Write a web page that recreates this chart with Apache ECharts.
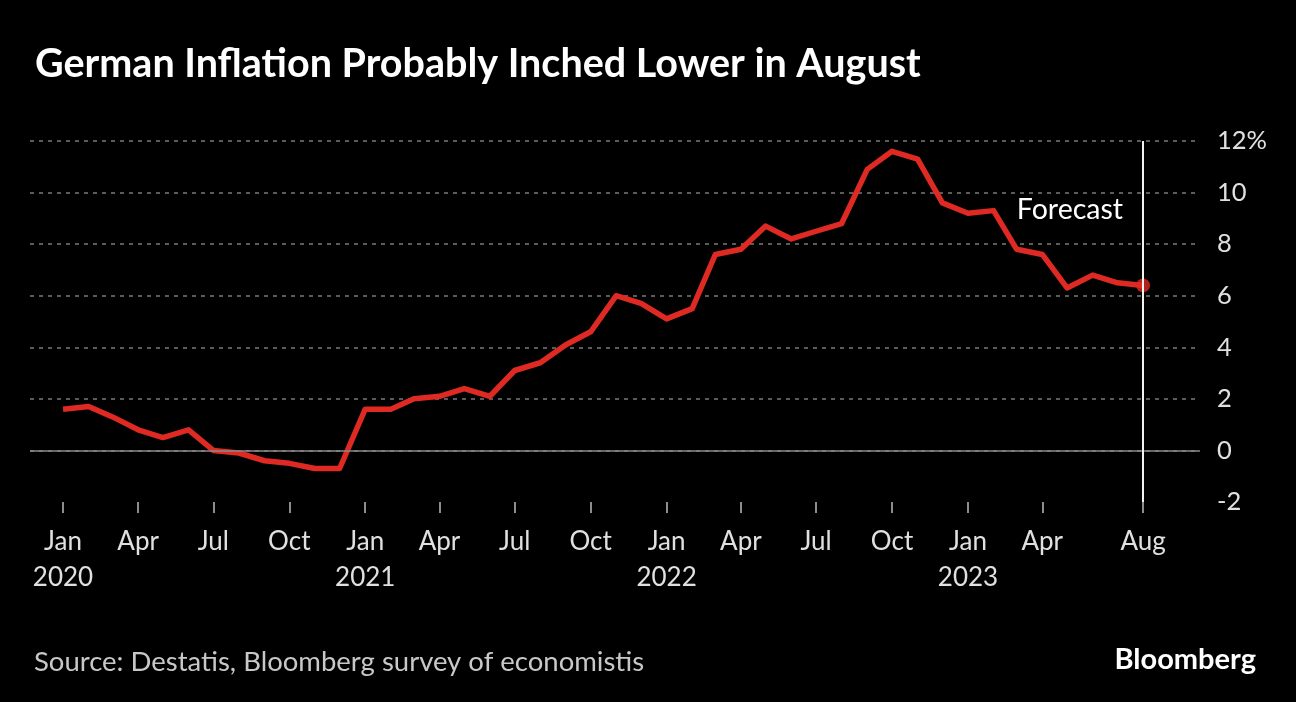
<!DOCTYPE html>
<html>
<head>
<meta charset="utf-8">
<script src="https://cdn.jsdelivr.net/npm/echarts@6/dist/echarts.min.js"></script>
<style>
html,body{margin:0;padding:0;background:#000;}
#chart{width:1296px;height:702px;}
</style>
</head>
<body>
<div id="chart"></div>
<script>
// ---- data ----
const months = [
  '2020-01-01','2020-02-01','2020-03-01','2020-04-01','2020-05-01','2020-06-01',
  '2020-07-01','2020-08-01','2020-09-01','2020-10-01','2020-11-01','2020-12-01',
  '2021-01-01','2021-02-01','2021-03-01','2021-04-01','2021-05-01','2021-06-01',
  '2021-07-01','2021-08-01','2021-09-01','2021-10-01','2021-11-01','2021-12-01',
  '2022-01-01','2022-02-01','2022-03-01','2022-04-01','2022-05-01','2022-06-01',
  '2022-07-01','2022-08-01','2022-09-01','2022-10-01','2022-11-01','2022-12-01',
  '2023-01-01','2023-02-01','2023-03-01','2023-04-01','2023-05-01','2023-06-01',
  '2023-07-01','2023-08-01'
];
const inflation = [
  1.6, 1.7, 1.3, 0.8, 0.5, 0.8, 0.0, -0.1, -0.4, -0.5, -0.7, -0.7,
  1.6, 1.6, 2.0, 2.1, 2.4, 2.1, 3.1, 3.4, 4.1, 4.6, 6.0, 5.7,
  5.1, 5.5, 7.6, 7.8, 8.7, 8.2, 8.5, 8.8, 10.9, 11.6, 11.3, 9.6,
  9.2, 9.3, 7.8, 7.6, 6.3, 6.8, 6.5, 6.4
];
const tickDates = [
  '2020-01-01','2020-04-01','2020-07-01','2020-10-01',
  '2021-01-01','2021-04-01','2021-07-01','2021-10-01',
  '2022-01-01','2022-04-01','2022-07-01','2022-10-01',
  '2023-01-01','2023-04-01','2023-08-01'
];
const tickLabels = [
  'Jan\n2020','Apr','Jul','Oct',
  'Jan\n2021','Apr','Jul','Oct',
  'Jan\n2022','Apr','Jul','Oct',
  'Jan\n2023','Apr','Aug'
];
const yTicks = [-2, 0, 2, 4, 6, 8, 10, 12];
const forecastDate = '2023-08-01';
const forecastLabel = 'Forecast';
const titleText = 'German Inflation Probably Inched Lower in August';
const sourceText = 'Source: Destatis, Bloomberg survey of economistis';

// ---- chart ----
const FONT = 'Lato, "Noto Sans", sans-serif';
const ts = d => { const p = d.split('-').map(Number); return Date.UTC(p[0], p[1] - 1, p[2]); };
const tickTs = tickDates.map(ts);
const seriesData = months.map((m, i) => [ts(m), inflation[i]]);
const last = seriesData[seriesData.length - 1];

const chart = echarts.init(document.getElementById('chart'));
chart.setOption({
  backgroundColor: '#000',
  animation: false,
  textStyle: { fontFamily: FONT },
  title: [
    { text: titleText, left: 30, top: 39,
      textStyle: { color: '#fff', fontSize: 39.5, fontWeight: 'bold', fontFamily: FONT } },
    { text: sourceText, left: 29, top: 643,
      textStyle: { color: '#c8c8c8', fontSize: 27.5, fontWeight: 'normal', fontFamily: FONT } },
    { text: 'Bloomberg', right: 35, top: 640,
      textStyle: { color: '#fff', fontSize: 29, fontWeight: 'bold', fontFamily: FONT } }
  ],
  grid: { left: 30, right: 96, top: 141, bottom: 200, containLabel: false },
  xAxis: {
    type: 'value',
    min: ts('2019-11-22'),
    max: ts('2023-10-09'),
    axisLine: { show: false, onZero: false },
    splitLine: { show: false },
    axisTick: {
      show: true, customValues: tickTs, length: 11,
      lineStyle: { color: '#bbb', width: 1.5 }
    },
    axisLabel: {
      show: true, customValues: tickTs, hideOverlap: false,
      showMinLabel: true, showMaxLabel: true,
      color: '#e0e0e0', fontSize: 26, lineHeight: 36, margin: 22,
      fontFamily: FONT,
      formatter: function (v) {
        const i = tickTs.indexOf(v);
        return i >= 0 ? tickLabels[i] : '';
      }
    }
  },
  yAxis: {
    type: 'value', position: 'right',
    min: yTicks[0], max: yTicks[yTicks.length - 1], interval: 2,
    axisLine: { show: false },
    axisTick: { show: false },
    axisLabel: {
      color: '#e0e0e0', fontSize: 25.5, margin: 17, fontFamily: FONT,
      formatter: v => (v === yTicks[yTicks.length - 1] ? v + '%' : String(v))
    },
    splitLine: {
      show: true, showMinLine: false,
      lineStyle: { color: '#7a7a7a', width: 1.5, type: [4, 5] }
    }
  },
  series: [
    {
      name: 'zero', type: 'line', data: [], z: 1, silent: true,
      markLine: {
        silent: true, symbol: 'none', label: { show: false },
        lineStyle: { color: '#8a8a8a', width: 1.5, type: 'solid' },
        data: [{ yAxis: 0 }]
      }
    },
    {
      name: 'forecastLine', type: 'line', data: [], z: 2, silent: true,
      markLine: {
        silent: true, symbol: 'none', label: { show: false },
        lineStyle: { color: '#f2f2f2', width: 2, type: 'solid' },
        data: [{ xAxis: ts(forecastDate) }]
      }
    },
    {
      name: 'CPI', type: 'line', data: seriesData, z: 3,
      symbol: 'none', showSymbol: false,
      lineStyle: { color: '#de2a22', width: 5.5, join: 'round' },
      markPoint: {
        symbol: 'rect', symbolSize: 0,
        label: {
          show: true, position: 'left', distance: 20,
          color: '#fff', fontSize: 28.5, fontFamily: FONT,
          formatter: forecastLabel
        },
        data: [{ coord: [ts(forecastDate), 9.34] }]
      }
    },
    {
      name: 'last', type: 'scatter', data: [last], z: 4,
      symbol: 'circle', symbolSize: 14,
      itemStyle: { color: '#de2a22' }
    }
  ]
});
</script>
</body>
</html>
